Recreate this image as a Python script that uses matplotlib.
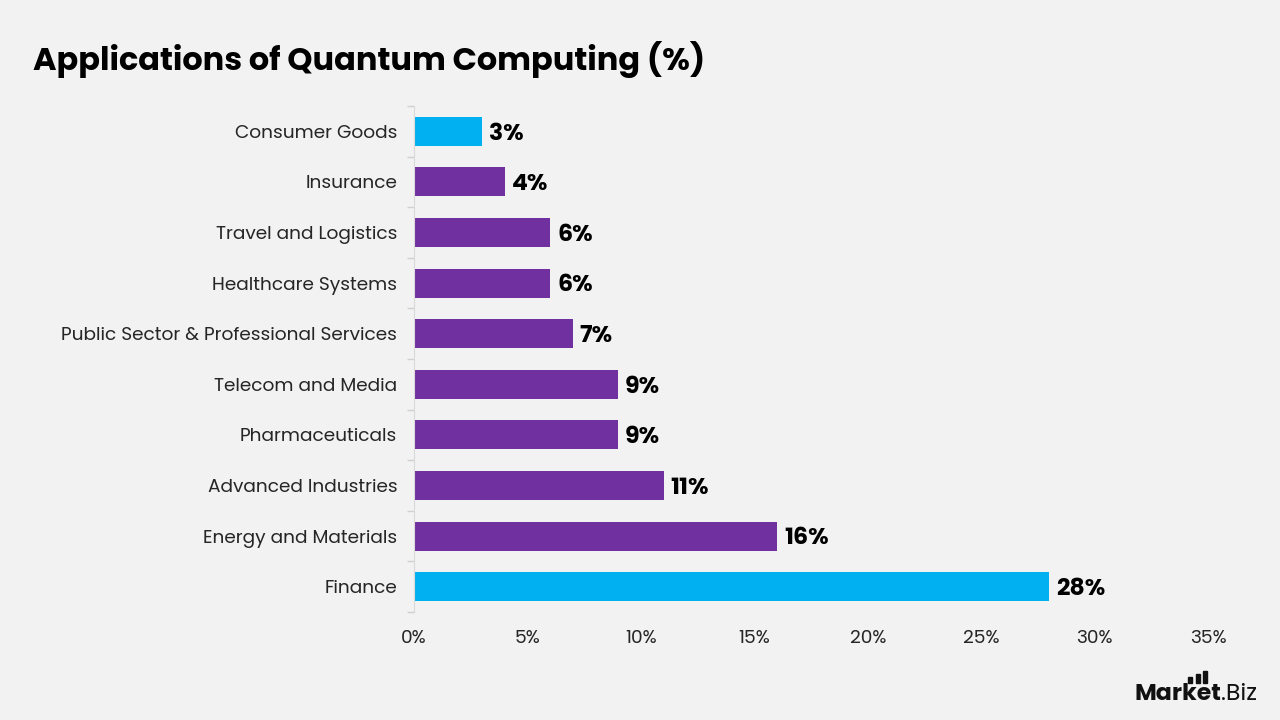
import matplotlib.pyplot as plt
from matplotlib.patches import Rectangle
from matplotlib.ticker import FuncFormatter, FixedLocator

# Data (top to bottom as shown)
categories = ["Consumer Goods", "Insurance", "Travel and Logistics", "Healthcare Systems",
              "Public Sector & Professional Services", "Telecom and Media", "Pharmaceuticals",
              "Advanced Industries", "Energy and Materials", "Finance"]
values = [3, 4, 6, 6, 7, 9, 9, 11, 16, 28]
highlight = ["Consumer Goods", "Finance"]

PURPLE = "#7030a0"
CYAN = "#00b0f0"
BG = "#f2f2f2"

plt.rcParams['font.family'] = ['Poppins', 'DejaVu Sans']

fig = plt.figure(figsize=(12.8, 7.2), dpi=100, facecolor=BG)
ax = fig.add_axes([0.3234, 0.15, 0.6204, 0.7028])
ax.set_facecolor(BG)

ypos = list(range(len(categories)))[::-1]
colors = [CYAN if c in highlight else PURPLE for c in categories]
ax.barh(ypos, values, height=0.57, color=colors)

for y, v in zip(ypos, values):
    ax.annotate(f"{v}%", (v, y), xytext=(5, -2), textcoords="offset points",
                va="center", ha="left", fontsize=17, fontweight="bold", color="black")

ax.set_xlim(0, 35)
ax.set_ylim(-0.5, len(categories) - 0.5)
ax.set_yticks(ypos)
ax.set_yticklabels(categories, fontsize=13.4, color="#262626")
ax.yaxis.set_minor_locator(FixedLocator([i - 0.5 for i in range(len(categories) + 1)]))
ax.tick_params(axis="y", which="major", length=0, pad=12)
ax.tick_params(axis="y", which="minor", length=5, color="#d0d0d0", width=1)
ax.set_xticks(range(0, 36, 5))
ax.xaxis.set_major_formatter(FuncFormatter(lambda x, _: f"{int(x)}%"))
ax.tick_params(axis="x", length=0, labelsize=13.4, labelcolor="#262626", pad=13)

for s in ["top", "right", "bottom"]:
    ax.spines[s].set_visible(False)
ax.spines["left"].set_color("#d9d9d9")

fig.text(0.026, 0.918, "Applications of Quantum Computing (%)", fontsize=23,
         fontweight="bold", color="black", va="center", ha="left")

# logo
fig.text(0.954, 0.028, "Market", fontsize=17, fontweight="bold", color="#111111",
         ha="right", va="baseline")
fig.text(0.954, 0.028, ".Biz", fontsize=17, color="#111111", ha="left", va="baseline")
for i, h in enumerate([0.009, 0.013, 0.017]):
    fig.patches.append(Rectangle((0.928 + i * 0.006, 0.0514), 0.0032, h,
                                 transform=fig.transFigure, color="#111111"))

fig.savefig("out.png", dpi=100, facecolor=BG)
